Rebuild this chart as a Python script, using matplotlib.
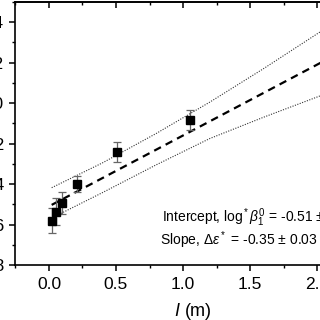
import numpy as np
import matplotlib.pyplot as plt
from matplotlib.ticker import MultipleLocator

plt.rcParams['font.family'] = ['Liberation Sans', 'DejaVu Sans']
plt.rcParams['mathtext.fontset'] = 'custom'
plt.rcParams['mathtext.rm'] = 'Liberation Sans'
plt.rcParams['mathtext.it'] = 'Liberation Sans:italic'

# measured points
ionic = [0.02, 0.05, 0.10, 0.21, 0.51, 1.05]
logk = [-0.582, -0.536, -0.493, -0.400, -0.243, -0.083]
err = [0.062, 0.068, 0.056, 0.040, 0.050, 0.048]

# linear fit (dashed) and 95% bands (dotted)
fit_x = [0.02, 2.1]
fit_y = [-0.503, 0.225]
band_x = [0.02, 0.4, 0.8, 1.2, 1.6, 2.1]
band_hi = [-0.418, -0.295, -0.150, 0.005, 0.170, 0.385]
band_lo = [-0.568, -0.442, -0.305, -0.175, -0.070, 0.055]

txt_icpt = r'Intercept, log$^*\beta_1^0$ = -0.51 $\pm$ 0.02'
txt_slope = r'Slope, $\Delta\varepsilon^*$ = -0.35 $\pm$ 0.03'

fig = plt.figure(figsize=(3.2, 3.2), dpi=100)
ax = fig.add_axes([0.0484, 0.1719, 1.047, 0.822])

ax.plot(band_x, band_hi, color='#333333', lw=0.8, ls=(0, (1, 1.3)))
ax.plot(band_x, band_lo, color='#333333', lw=0.8, ls=(0, (1, 1.3)))
ax.plot(fit_x, fit_y, color='black', lw=1.6, dashes=(3.4, 2.4))
ax.errorbar(ionic, logk, yerr=err, fmt='s', color='black', ms=6,
            ecolor='#666666', elinewidth=0.9, capsize=3, capthick=0.9, zorder=3)

ax.text(0.843, -0.567, txt_icpt, fontsize=10, va='center', ha='left')
ax.text(0.828, -0.676, txt_slope, fontsize=10, va='center', ha='left')

ax.set_xlim(-0.25, 2.25)
ax.set_ylim(-0.8, 0.5)
ax.xaxis.set_major_locator(MultipleLocator(0.5))
ax.xaxis.set_minor_locator(MultipleLocator(0.25))
ax.yaxis.set_major_locator(MultipleLocator(0.2))
ax.yaxis.set_minor_locator(MultipleLocator(0.1))
ax.tick_params(which='major', direction='out', length=4, width=1.1, labelsize=12.5, pad=4.3)
ax.tick_params(which='minor', direction='out', length=2.3, width=1.0)
for s in ax.spines.values():
    s.set_linewidth(1.2)

sec = ax.secondary_xaxis('top')
sec.xaxis.set_major_locator(MultipleLocator(0.5))
sec.xaxis.set_minor_locator(MultipleLocator(0.25))
sec.tick_params(which='major', direction='in', length=4, width=1.1, labeltop=False)
sec.tick_params(which='minor', direction='in', length=2.3, width=1.0)
sec.spines['top'].set_linewidth(1.2)

ax.set_xlabel(r'$I$ (m)', fontsize=13)
ax.xaxis.set_label_coords(0.53, -0.135)

fig.savefig('out.png', dpi=100)
